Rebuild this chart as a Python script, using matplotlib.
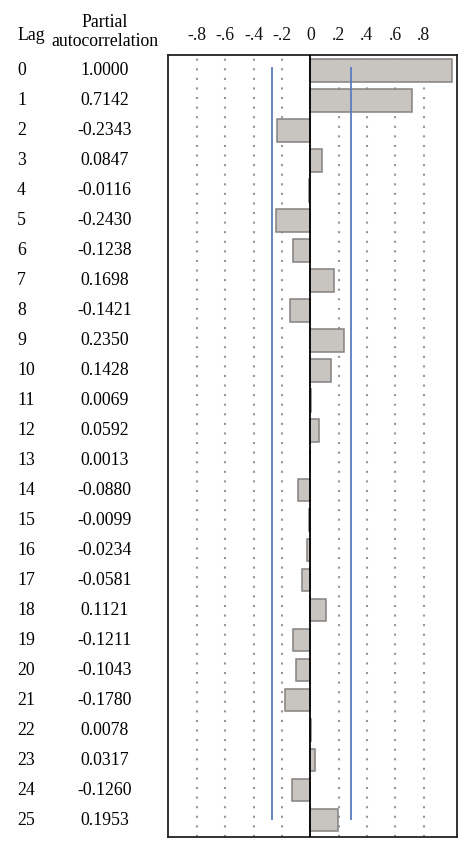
import matplotlib
matplotlib.use("Agg")
import matplotlib.pyplot as plt
import matplotlib.transforms as mtransforms
import numpy as np

lags = list(range(26))
pacf = [1.0000, 0.7142, -0.2343, 0.0847, -0.0116, -0.2430, -0.1238, 0.1698,
        -0.1421, 0.2350, 0.1428, 0.0069, 0.0592, 0.0013, -0.0880, -0.0099,
        -0.0234, -0.0581, 0.1121, -0.1211, -0.1043, -0.1780, 0.0078, 0.0317,
        -0.1260, 0.1953]
pacf_labels = ["1.0000", "0.7142", "-0.2343", "0.0847", "-0.0116", "-0.2430",
               "-0.1238", "0.1698", "-0.1421", "0.2350", "0.1428", "0.0069",
               "0.0592", "0.0013", "-0.0880", "-0.0099", "-0.0234", "-0.0581",
               "0.1121", "-0.1211", "-0.1043", "-0.1780", "0.0078", "0.0317",
               "-0.1260", "0.1953"]
tick_values = [-0.8, -0.6, -0.4, -0.2, 0, 0.2, 0.4, 0.6, 0.8]
tick_labels = ["-.8", "-.6", "-.4", "-.2", "0", ".2", ".4", ".6", ".8"]
conf_lower = -0.27
conf_upper = 0.29

plt.rcParams['font.family'] = ['Liberation Serif', 'DejaVu Serif']
FS = 12.8
W, H = 474, 855
fig = plt.figure(figsize=(W / 100, H / 100), dpi=100)
ax = fig.add_axes([168.3 / W, 1 - 837.3 / H, (456.7 - 168.3) / W, (837.3 - 54.7) / H])

ax.barh(lags, pacf, height=0.75, color="#c8c5c1", edgecolor="#858180",
        linewidth=1.1, zorder=2)
ax.axvline(0, color="black", lw=1.3, zorder=3)
ax.vlines([conf_lower, conf_upper], -0.12, 25, color="#5a7cc0", lw=1.3, zorder=4)

ax.set_xlim(-1.002, 1.033)
ax.set_ylim(25.57, -0.52)
ax.set_xticks(tick_values)
ax.set_xticklabels(tick_labels)
ax.set_yticks([])
ax.tick_params(axis='x', top=True, labeltop=True, bottom=False, labelbottom=False,
               length=0, pad=8, labelsize=FS, colors="#111111")
ax.grid(axis='x', color="#959595", linestyle=(0, (1.0, 3.6)), lw=1.5)
ax.set_axisbelow(True)
for s in ax.spines.values():
    s.set_color("#222222")
    s.set_linewidth(1.3)

trans = mtransforms.blended_transform_factory(fig.transFigure, ax.transData)
for lag, lab in zip(lags, pacf_labels):
    fig.text(17 / W, lag, str(lag), transform=trans, ha='left', va='center', fontsize=FS)
    fig.text(104.5 / W, lag, lab, transform=trans, ha='center', va='center', fontsize=FS)

fig.text(17 / W, 1 - 35 / H, "Lag", ha='left', va='center', fontsize=FS)
fig.text(104.5 / W, 1 - 32 / H, "Partial\nautocorrelation", ha='center', va='center',
         fontsize=FS, linespacing=1.15)

fig.savefig("out.png", dpi=100)
